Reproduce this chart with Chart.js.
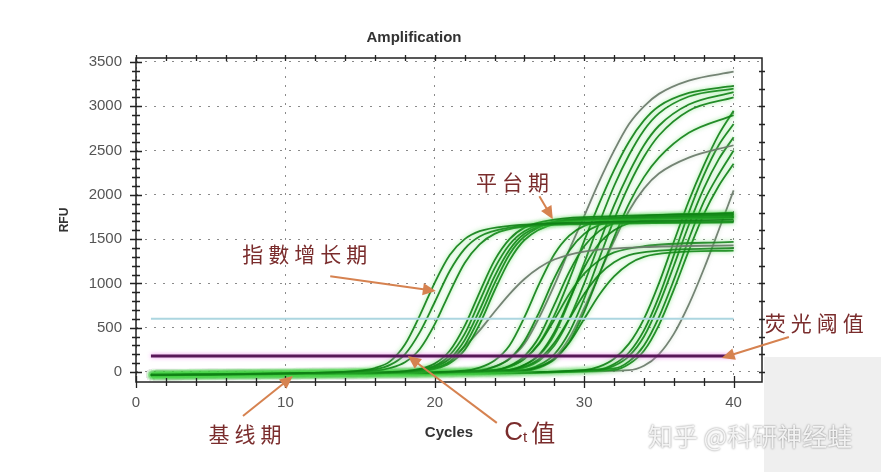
<!DOCTYPE html>
<html>
<head>
<meta charset="utf-8">
<script src="https://cdn.jsdelivr.net/npm/chart.js@4.4.1/dist/chart.umd.min.js"></script>
<style>
  html, body { margin: 0; padding: 0; background: #fff; }
  #wrap { width: 881px; height: 472px; }
</style>
</head>
<body>
<div id="wrap"><canvas id="amp" width="881" height="472"></canvas></div>
<script>
// ------------------------------------------------------------
// Data
// ------------------------------------------------------------
const xTickLabels = [0, 10, 20, 30, 40];
const yTickLabels = [0, 500, 1000, 1500, 2000, 2500, 3000, 3500];
const thresholdRFU = 600;   // light blue line
const ctLineRFU = 180;      // purple line
const lineSpan = [1, 40];

// each curve: [cycle, RFU]
// earliest group, plateau ~1700
const a1 = [[1,-35],[10,-15],[15,15],[16,45],[17,120],[18,310],[19,640],[20,1010],[21,1320],[22,1500],[23,1590],[25,1650],[30,1690],[40,1720]];
const a2 = [[1,-35],[10,-15],[15,10],[16,30],[17,80],[18,200],[19,450],[20,790],[21,1140],[22,1390],[23,1530],[25,1630],[30,1680],[40,1700]];
const a3 = [[1,-30],[10,-15],[16,15],[17,45],[18,110],[19,260],[20,540],[21,900],[22,1230],[23,1440],[24,1560],[26,1640],[30,1670],[40,1690]];
// thick bundle, plateau ~1750
const b1 = [[1,-35],[12,-15],[18,10],[19,35],[20,95],[21,240],[22,520],[23,900],[24,1260],[25,1500],[26,1630],[28,1720],[32,1760],[40,1790]];
const b2 = [[1,-30],[12,-15],[18,5],[19,25],[20,70],[21,190],[22,430],[23,800],[24,1170],[25,1440],[26,1590],[28,1700],[32,1740],[40,1770]];
const b3 = [[1,-35],[12,-15],[18,0],[19,20],[20,55],[21,150],[22,360],[23,700],[24,1080],[25,1380],[26,1560],[28,1690],[32,1730],[40,1750]];
const b4 = [[1,-40],[12,-20],[19,10],[20,45],[21,120],[22,300],[23,620],[24,1000],[25,1330],[26,1530],[28,1690],[32,1740],[40,1780]];
const b5 = [[1,-35],[12,-20],[19,5],[20,35],[21,100],[22,250],[23,540],[24,920],[25,1260],[26,1490],[28,1670],[32,1720],[40,1740]];
// slow grey curve, plateau ~1430
const g1 = [[1,-30],[12,-15],[18,10],[19,30],[20,70],[21,150],[22,290],[23,470],[24,680],[25,880],[26,1050],[27,1180],[28,1270],[30,1360],[34,1410],[40,1430]];
// middle group joining the 1750 bundle
const c1 = [[1,-35],[15,-15],[22,15],[23,50],[24,130],[25,300],[26,620],[27,1000],[28,1330],[29,1540],[30,1650],[32,1730],[40,1800]];
const c2 = [[1,-35],[15,-15],[23,15],[24,60],[25,150],[26,350],[27,680],[28,1060],[29,1370],[30,1560],[31,1660],[33,1730],[40,1780]];
const c3 = [[1,-30],[15,-15],[24,20],[25,70],[26,180],[27,400],[28,760],[29,1130],[30,1420],[31,1590],[32,1680],[34,1730],[40,1760]];
const c4 = [[1,-35],[15,-15],[25,25],[26,80],[27,200],[28,450],[29,820],[30,1180],[31,1450],[32,1600],[33,1680],[35,1730],[40,1750]];
// middle group, low plateau ~1400
const l1 = [[1,-35],[15,-15],[24,20],[25,60],[26,150],[27,320],[28,590],[29,880],[30,1110],[31,1260],[32,1350],[34,1420],[40,1470]];
const l2 = [[1,-30],[15,-15],[25,20],[26,60],[27,150],[28,330],[29,600],[30,880],[31,1100],[32,1240],[33,1320],[35,1370],[40,1400]];
const l3 = [[1,-35],[15,-20],[26,20],[27,60],[28,150],[29,330],[30,600],[31,870],[32,1080],[33,1220],[34,1300],[36,1350],[40,1370]];
// middle group, high plateau 2500-3400
const h1 = [[1,-35],[15,-15],[23,20],[24,60],[25,150],[26,320],[27,620],[28,980],[29,1380],[30,1760],[31,2150],[32,2500],[33,2800],[34,3000],[35,3140],[37,3290],[40,3390]];
const h2 = [[1,-35],[15,-15],[24,20],[25,60],[26,150],[27,330],[28,640],[29,1040],[30,1480],[31,1900],[32,2280],[33,2600],[34,2840],[35,3000],[37,3150],[40,3230]];
const h3 = [[1,-30],[15,-15],[25,25],[26,80],[27,190],[28,420],[29,800],[30,1230],[31,1680],[32,2100],[33,2450],[34,2730],[35,2920],[37,3110],[40,3200]];
const h4 = [[1,-35],[15,-15],[25,15],[26,50],[27,130],[28,300],[29,600],[30,1000],[31,1450],[32,1880],[33,2250],[34,2560],[35,2780],[37,3020],[40,3160]];
const h5 = [[1,-35],[15,-20],[26,25],[27,80],[28,200],[29,450],[30,830],[31,1280],[32,1720],[33,2110],[34,2430],[35,2670],[37,2950],[40,3100]];
const h6 = [[1,-30],[15,-15],[26,15],[27,50],[28,140],[29,340],[30,680],[31,1100],[32,1520],[33,1900],[34,2200],[35,2420],[37,2700],[40,2900]];
const h7 = [[1,-35],[15,-15],[26,20],[27,60],[28,160],[29,380],[30,720],[31,1100],[32,1480],[33,1820],[34,2070],[35,2240],[37,2420],[40,2560]];
// late group
const d1 = [[1,-35],[20,-15],[30,20],[31,60],[32,150],[33,320],[34,600],[35,1000],[36,1470],[37,1930],[38,2330],[39,2680],[40,2950]];
const d2 = [[1,-35],[20,-15],[31,30],[32,90],[33,220],[34,470],[35,850],[36,1320],[37,1800],[38,2220],[39,2560],[40,2800]];
const d3 = [[1,-30],[20,-15],[31,20],[32,70],[33,180],[34,400],[35,760],[36,1200],[37,1660],[38,2070],[39,2400],[40,2650]];
const d4 = [[1,-35],[20,-20],[32,40],[33,120],[34,300],[35,620],[36,1040],[37,1500],[38,1920],[39,2230],[40,2500]];
const d5 = [[1,-35],[20,-15],[32,25],[33,90],[34,240],[35,530],[36,930],[37,1370],[38,1780],[39,2100],[40,2350]];
const e1 = [[1,-35],[20,-15],[33,20],[34,70],[35,200],[36,430],[37,760],[38,1160],[39,1600],[40,2050]];

const curves = { a1, a2, a3, b1, b2, b3, b4, b5, g1, c1, c2, c3, c4, l1, l2, l3,
  h1, h2, h3, h4, h5, h6, h7, d1, d2, d3, d4, d5, e1 };
const greyCurves = ['g1', 'h1', 'h7', 'e1'];

// annotations, in data coordinates (text centre, arrow tail, arrow tip)
const notes = [
  { text: '平台期', at: [25.2, 2142], from: [27.0, 1984], to: [27.9, 1725] },
  { text: '指數增长期', at: [11.3, 1330], from: [13.0, 1082], to: [20.07, 913] },
  { text: '荧光阈值', at: [45.4, 552], from: [43.7, 395], to: [39.2, 158] },
  { text: '基线期', at: [7.3, -699], from: [7.16, -496], to: [10.5, -45] },
  { text: 'Ct值', at: [26.35, -688], from: [24.15, -575], to: [18.2, 180] }
];

// ------------------------------------------------------------
// Datasets
// ------------------------------------------------------------
const datasets = Object.entries(curves).map(([name, pts]) => {
  const grey = greyCurves.includes(name);
  return {
    label: name,
    data: pts.map(([x, y]) => ({ x, y })),
    borderColor: grey ? 'rgba(105,122,105,0.92)' : 'rgba(14,128,20,0.9)',
    borderWidth: 1.8,
    pointRadius: 0,
    cubicInterpolationMode: 'monotone',
    glow: grey ? 'rgba(170,200,170,0.6)' : 'rgba(70,215,70,0.65)',
    order: 2
  };
});

datasets.push({
  label: 'threshold',
  data: lineSpan.map(x => ({ x, y: thresholdRFU })),
  borderColor: 'rgb(172,214,224)',
  borderWidth: 2,
  pointRadius: 0,
  order: 1
});
datasets.push({
  label: 'ct',
  data: lineSpan.map(x => ({ x, y: ctLineRFU })),
  borderColor: 'rgb(88,22,88)',
  borderWidth: 3,
  pointRadius: 0,
  glow: 'rgba(235,130,235,0.9)',
  order: 0
});

// ------------------------------------------------------------
// Drawing helpers
// ------------------------------------------------------------
const NOTE_COLOR = 'rgb(122,44,44)';
const ARROW_COLOR = 'rgb(214,130,80)';

function arrow(ctx, x1, y1, x2, y2) {
  const ang = Math.atan2(y2 - y1, x2 - x1);
  const head = 13, wing = 6;
  const c = Math.cos(ang), s = Math.sin(ang);
  ctx.strokeStyle = ARROW_COLOR;
  ctx.fillStyle = ARROW_COLOR;
  ctx.lineWidth = 2;
  ctx.beginPath();
  ctx.moveTo(x1, y1);
  ctx.lineTo(x2 - c * head * 0.7, y2 - s * head * 0.7);
  ctx.stroke();
  ctx.beginPath();
  ctx.moveTo(x2, y2);
  ctx.lineTo(x2 - head * c + wing * s, y2 - head * s - wing * c);
  ctx.lineTo(x2 - head * c - wing * s, y2 - head * s + wing * c);
  ctx.closePath();
  ctx.fill();
}

function spacedText(ctx, text, cx, cy, size, gap) {
  ctx.font = size + 'px "Noto Sans CJK SC"';
  const chars = Array.from(text);
  const widths = chars.map(ch => ctx.measureText(ch).width);
  const total = widths.reduce((a, b) => a + b, 0) + gap * (chars.length - 1);
  let x = cx - total / 2;
  ctx.textAlign = 'left';
  ctx.textBaseline = 'middle';
  chars.forEach((ch, i) => {
    ctx.fillText(ch, x, cy);
    x += widths[i] + gap;
  });
}

function ctText(ctx, cx, cy) {
  ctx.textBaseline = 'middle';
  ctx.textAlign = 'left';
  ctx.font = '26px "Liberation Sans"';
  const wC = ctx.measureText('C').width;
  ctx.font = '15px "Liberation Sans"';
  const wT = ctx.measureText('t').width;
  ctx.font = '24px "Noto Sans CJK SC"';
  const wV = ctx.measureText('值').width;
  let x = cx - (wC + wT + wV + 4) / 2;
  ctx.font = '26px "Liberation Sans"';
  ctx.fillText('C', x, cy);
  x += wC;
  ctx.font = '15px "Liberation Sans"';
  ctx.fillText('t', x, cy + 5);
  x += wT + 4;
  ctx.font = '24px "Noto Sans CJK SC"';
  ctx.fillText('值', x, cy);
}

const decor = {
  id: 'decor',
  beforeDraw(chart) {
    const { ctx } = chart;
    ctx.save();
    ctx.fillStyle = '#fff';
    ctx.fillRect(0, 0, chart.width, chart.height);
    ctx.fillStyle = '#efefef';
    ctx.fillRect(764, 357, chart.width - 764, chart.height - 357);
    ctx.restore();
  },
  beforeDatasetDraw(chart, args) {
    const glow = chart.data.datasets[args.index].glow;
    chart.ctx.save();
    if (glow) {
      chart.ctx.shadowColor = glow;
      chart.ctx.shadowBlur = 4;
    }
  },
  afterDatasetDraw(chart) {
    chart.ctx.restore();
  },
  afterDraw(chart) {
    const { ctx, chartArea: a, scales: { x, y } } = chart;
    ctx.save();

    // frame
    ctx.strokeStyle = '#222';
    ctx.lineWidth = 1.5;
    ctx.strokeRect(a.left, a.top, a.right - a.left, a.bottom - a.top);

    // tick marks
    ctx.lineWidth = 1.3;
    ctx.beginPath();
    for (let v = 0; v <= 3500; v += 100) {
      const py = Math.round(y.getPixelForValue(v)) + 0.5;
      const len = v % 500 === 0 ? 6 : 4;
      ctx.moveTo(a.left - len, py); ctx.lineTo(a.left + len, py);
    }
    for (let v = 0; v <= 3400; v += 200) {
      const py = Math.round(y.getPixelForValue(v)) + 0.5;
      ctx.moveTo(a.right - 3, py); ctx.lineTo(a.right + 3, py);
    }
    for (let c = 0; c <= 40; c += 2) {
      const px = Math.round(x.getPixelForValue(c)) + 0.5;
      const len = c % 10 === 0 ? 6 : 4;
      ctx.moveTo(px, a.bottom - len); ctx.lineTo(px, a.bottom + len);
      ctx.moveTo(px, a.top - 3); ctx.lineTo(px, a.top + 3);
    }
    ctx.stroke();

    // title
    ctx.fillStyle = '#333';
    ctx.font = 'bold 15px "Liberation Sans"';
    ctx.textAlign = 'center';
    ctx.textBaseline = 'middle';
    ctx.fillText('Amplification', 414, 38);

    // annotations
    notes.forEach(n => {
      arrow(ctx, x.getPixelForValue(n.from[0]), y.getPixelForValue(n.from[1]),
        x.getPixelForValue(n.to[0]), y.getPixelForValue(n.to[1]));
    });
    ctx.fillStyle = NOTE_COLOR;
    notes.forEach(n => {
      const cx = x.getPixelForValue(n.at[0]);
      const cy = y.getPixelForValue(n.at[1]);
      if (n.text === 'Ct值') ctText(ctx, cx, cy);
      else spacedText(ctx, n.text, cx, cy, 21, 5);
    });

    // watermark
    ctx.font = '25px "Noto Sans CJK SC"';
    ctx.textAlign = 'left';
    ctx.textBaseline = 'middle';
    ctx.shadowColor = 'rgba(0,0,0,0.55)';
    ctx.shadowBlur = 2;
    ctx.fillStyle = 'rgba(248,248,248,0.95)';
    ctx.fillText('知乎 @科研神经蛙', 648, 436);

    ctx.restore();
  }
};

// ------------------------------------------------------------
// Chart
// ------------------------------------------------------------
const tickFont = { family: 'Liberation Sans', size: 15 };

new Chart(document.getElementById('amp'), {
  type: 'line',
  data: { datasets },
  options: {
    responsive: false,
    animation: false,
    events: [],
    layout: { padding: { left: 0, right: 119, top: 58, bottom: 0 } },
    plugins: {
      legend: { display: false },
      tooltip: { enabled: false },
      title: { display: false }
    },
    scales: {
      x: {
        type: 'linear',
        min: 0,
        max: 41.9,
        afterBuildTicks: s => { s.ticks = xTickLabels.map(v => ({ value: v })); },
        afterFit: s => { s.height = 90; },
        grid: { color: '#8a8a8a', drawTicks: false, lineWidth: 1 },
        border: { display: false, dash: [2, 7] },
        ticks: { padding: 12, color: '#555', font: tickFont, maxRotation: 0, callback: v => String(v) },
        title: {
          display: true, text: 'Cycles', color: '#333',
          font: { family: 'Liberation Sans', size: 15, weight: 'bold' },
          padding: { top: 0, bottom: 30 }
        }
      },
      y: {
        min: -113,
        max: 3545,
        afterBuildTicks: s => { s.ticks = yTickLabels.map(v => ({ value: v })); },
        afterFit: s => { s.width = 136; },
        grid: { color: '#8a8a8a', drawTicks: false, lineWidth: 1 },
        border: { display: false, dash: [2, 7] },
        ticks: { padding: 14, color: '#555', font: tickFont, callback: v => String(v) },
        title: {
          display: true, text: 'RFU', color: '#333',
          font: { family: 'Liberation Sans', size: 12, weight: 'bold' },
          padding: { top: 57, bottom: 0 }
        }
      }
    }
  },
  plugins: [decor]
});
</script>
</body>
</html>
